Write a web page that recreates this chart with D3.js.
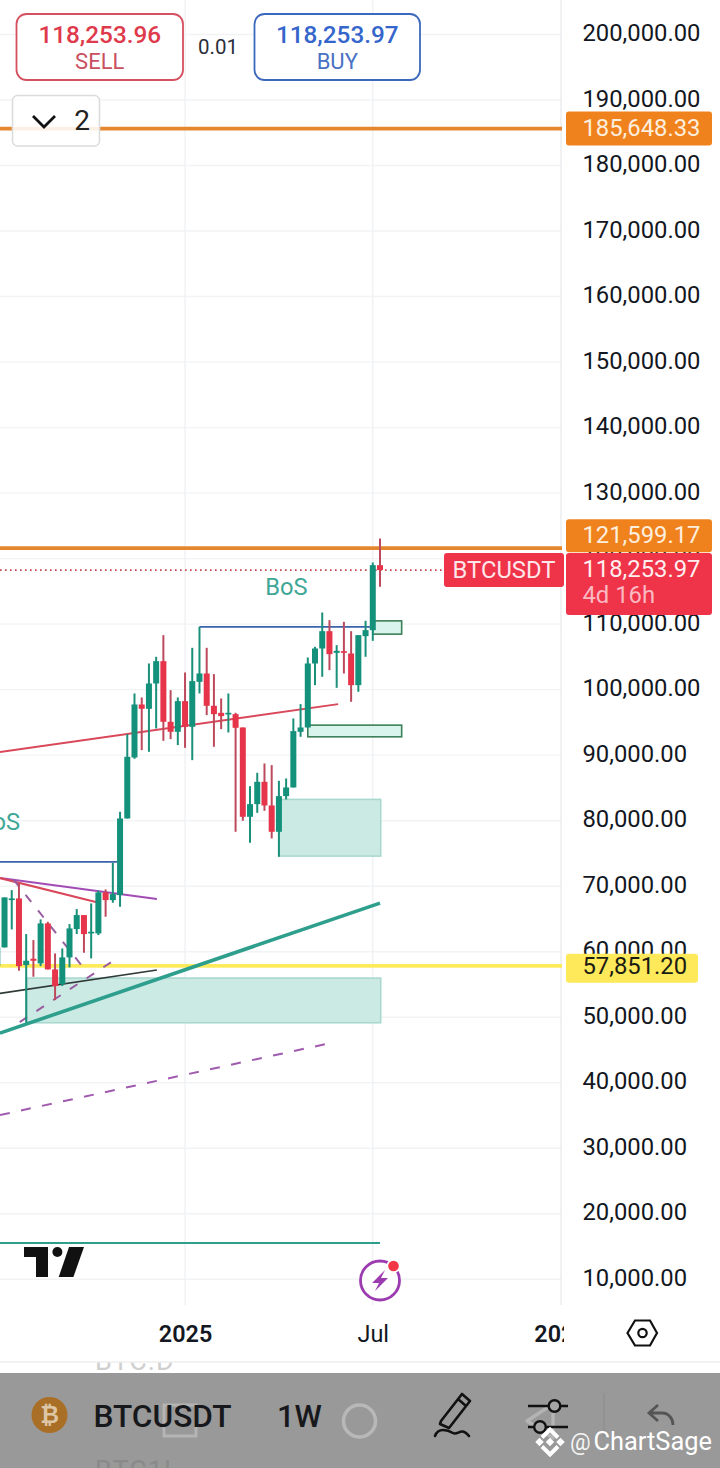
<!DOCTYPE html>
<html>
<head>
<meta charset="utf-8">
<script src="https://cdn.jsdelivr.net/npm/d3@7"></script>
<style>
    html, body { margin: 0; padding: 0; background: #fff; }
    svg { display: block; }
    text { font-family: Roboto, sans-serif; }
</style>
</head>
<body>
<div id="chart"></div>
<script>
// weekly candles, week 0 = 8 Jul 2024, last one = 14 Jul 2025
var opens = [57808, 60657, 67880, 68135, 57961, 58927, 58215, 64319, 57299, 55061, 59130, 63454, 65591, 62793, 62793, 69050, 67880,
    68640, 80340, 89650, 97738, 97077, 100943, 104351, 95093, 93567, 98247, 94330, 101197, 102469, 97535, 96466, 96211, 96263, 94228,
    80595, 82528, 85936, 82324, 78306, 83749, 85071, 93567, 94228, 103995, 106284, 108929, 105623, 105877, 105521, 100688, 108166, 109082, 119002];
var closes = [60657, 68287, 68135, 57808, 58622, 58622, 64319, 57299, 54756, 59130, 63556, 65591, 62692, 63048, 69050, 67880, 68796,
    80340, 89751, 97738, 97077, 100943, 104351, 95093, 93567, 98247, 94330, 101299, 102469, 97535, 96263, 95958, 96466, 94177, 80595,
    82528, 85936, 82324, 78306, 83749, 85071, 93668, 94228, 103995, 106284, 108929, 105419, 105928, 105623, 100688, 108319, 109082, 119002, 118253.97];
var highs = [60657, 68287, 69406, 70424, 62692, 61776, 64930, 64574, 59741, 60504, 64218, 66507, 65591, 67372, 69305, 69508, 73578,
    81358, 93211, 99417, 98806, 103995, 105012, 108319, 99925, 98806, 102622, 106386, 109591, 106386, 102367, 98654, 99417, 96466, 94228,
    85275, 87310, 88734, 88480, 86089, 86445, 95601, 97789, 104911, 106538, 111778, 110608, 106793, 110354, 108929, 108319, 110506, 119409, 123071];
var lows = [55671, 60657, 63404, 57095, 49160, 56179, 57808, 57299, 52619, 54756, 57605, 62692, 59843, 58978, 62539, 65337, 67473,
    66860, 80340, 89446, 90769, 90514, 94075, 92193, 92448, 91532, 91125, 89243, 99417, 96110, 91277, 93974, 93465, 78306, 79984,
    76627, 81205, 81510, 77288, 74490, 83240, 85071, 92804, 94228, 100688, 101960, 102978, 100281, 102469, 98145, 99671, 105013, 107454, 115695];

var priceTicks = d3.range(10000, 200001, 10000);
var timeTicks = [26, 52, 78];
var timeLabels = ["2025", "Jul", "2026"];

// horizontal price levels
var levels = [
    { price: 185648.33, color: "#e4872f" },
    { price: 121599.17, color: "#e4872f" },
    { price: 57851.20, color: "#fdeb5b" }
];
var lastPrice = 118253.97;

// drawn lines: [week, price, week, price]
var trendLines = [
    { name: "support", pts: [0.37, 47585, 53, 67423], color: "#2f9f8d", w: 3.6, dash: null },
    { name: "mid", pts: [0.37, 90466, 47.2, 97792], color: "#d9485a", w: 2, dash: null },
    { name: "low", pts: [0.37, 35071, 46.1, 46050], color: "#a05aae", w: 2, dash: "10 11.5" },
    { name: "purple", pts: [0.37, 71238, 22.1, 68034], color: "#a24bb5", w: 2, dash: null },
    { name: "redFall", pts: [0.37, 71238, 14.2, 67423], color: "#d9485a", w: 2, dash: null },
    { name: "black", pts: [0.37, 53644, 22.1, 57200], color: "#2f3b38", w: 1.6, dash: null },
    { name: "zigA", pts: [2.2, 71086, 12.4, 56894], color: "#9a5ca0", w: 2, dash: "9 11" },
    { name: "zigB", pts: [3.1, 49264, 16, 58573], color: "#9a5ca0", w: 2, dash: "9 11" },
    { name: "bosLow", pts: [0.37, 73726, 16.6, 73726], color: "#3a62ad", w: 1.7, dash: null },
    { name: "bosHigh", pts: [28, 109590, 51.6, 109590], color: "#3a62ad", w: 1.7, dash: null },
    { name: "floor", pts: [0.37, 15540, 53, 15540], color: "#2f9f8d", w: 1.8, dash: null }
];

// zones: [week from, price top, week to, price bottom]
var zones = [
    { box: [4.1, 55978, 53.1, 49157], fill: "#cceae4", stroke: "#a9d8cf" },
    { box: [39, 83248, 53.1, 74596], fill: "#cceae4", stroke: "#a9d8cf" },
    { box: [43, 94586, 56, 92801], fill: "#d9f3ed", stroke: "#3c7f58" },
    { box: [52, 110502, 56, 108473], fill: "#d9f3ed", stroke: "#3c7f58" }
];

var svgWidth = 720;
var svgHeight = 1468;
var axisX = 562;
var plotBottom = 1305;

var xScale = d3.scaleLinear().domain([0, 53]).range([-2.7, 380]);
var yScale = d3.scaleLinear().domain([10000, 200000]).range([1279.3, 34.5]);

var svg = d3.select("#chart").append("svg")
    .attr("width", svgWidth)
    .attr("height", svgHeight);

var defs = svg.append("defs");
defs.append("clipPath").attr("id", "plotClip").append("rect")
    .attr("width", axisX).attr("height", plotBottom);
defs.append("clipPath").attr("id", "timeClip").append("rect")
    .attr("y", plotBottom).attr("width", axisX + 2).attr("height", 60);

// grid
var grid = svg.append("g");
grid.selectAll(".hgrid").data(priceTicks).enter().append("line")
    .attr("x1", 0).attr("x2", axisX)
    .attr("y1", d => yScale(d)).attr("y2", d => yScale(d))
    .attr("stroke", "#f1f3f5").attr("stroke-width", 1.4);
grid.selectAll(".vgrid").data(timeTicks.slice(0, 2)).enter().append("line")
    .attr("x1", d => xScale(d)).attr("x2", d => xScale(d))
    .attr("y1", 0).attr("y2", plotBottom)
    .attr("stroke", "#eff1f3").attr("stroke-width", 1.4);
grid.append("line")
    .attr("x1", axisX - 1).attr("x2", axisX - 1).attr("y1", 0).attr("y2", plotBottom)
    .attr("stroke", "#e9ebee").attr("stroke-width", 1.4);

var plot = svg.append("g").attr("clip-path", "url(#plotClip)");

// zones
plot.selectAll(".zone").data(zones).enter().append("rect")
    .attr("x", d => xScale(d.box[0]))
    .attr("y", d => yScale(d.box[1]))
    .attr("width", d => xScale(d.box[2]) - xScale(d.box[0]))
    .attr("height", d => yScale(d.box[3]) - yScale(d.box[1]))
    .attr("fill", d => d.fill)
    .attr("stroke", d => d.stroke)
    .attr("stroke-width", 1.6);

// price levels and drawings
plot.selectAll(".level").data(levels).enter().append("line")
    .attr("x1", 0).attr("x2", axisX)
    .attr("y1", d => yScale(d.price)).attr("y2", d => yScale(d.price))
    .attr("stroke", d => d.color).attr("stroke-width", 3.8);

plot.selectAll(".trend").data(trendLines).enter().append("line")
    .attr("x1", d => xScale(d.pts[0])).attr("y1", d => yScale(d.pts[1]))
    .attr("x2", d => xScale(d.pts[2])).attr("y2", d => yScale(d.pts[3]))
    .attr("stroke", d => d.color).attr("stroke-width", d => d.w)
    .attr("stroke-dasharray", d => d.dash);

plot.append("line")
    .attr("x1", 0).attr("x2", 446)
    .attr("y1", yScale(lastPrice)).attr("y2", yScale(lastPrice))
    .attr("stroke", "#c9404f").attr("stroke-width", 1.8).attr("stroke-dasharray", "1.6 3.4");

// candles
var candles = plot.selectAll(".candle").data(opens).enter().append("g");
candles.append("line")
    .attr("x1", (d, i) => xScale(i)).attr("x2", (d, i) => xScale(i))
    .attr("y1", (d, i) => yScale(highs[i])).attr("y2", (d, i) => yScale(lows[i]))
    .attr("stroke", (d, i) => closes[i] >= d ? "#1a8f79" : "#bd4a5c")
    .attr("stroke-width", 2);
candles.append("rect")
    .attr("x", (d, i) => xScale(i) - 3)
    .attr("width", 6)
    .attr("y", (d, i) => yScale(Math.max(d, closes[i])))
    .attr("height", (d, i) => Math.max(1.6, Math.abs(yScale(d) - yScale(closes[i]))))
    .attr("fill", (d, i) => closes[i] >= d ? "#13917a" : "#e6354a");

// BoS labels
plot.append("text").attr("x", 286.5).attr("y", 595).attr("text-anchor", "middle")
    .attr("font-size", 23.7).attr("fill", "#3fa796").text("BoS");
plot.append("text").attr("x", 20).attr("y", 830).attr("text-anchor", "end")
    .attr("font-size", 23.7).attr("fill", "#3fa796").text("BoS");

// TradingView mark
var tv = svg.append("g").attr("fill", "#111");
tv.append("path").attr("d", "M24 1247H48V1277H36V1257H24Z");
tv.append("circle").attr("cx", 57.4).attr("cy", 1252).attr("r", 5);
tv.append("path").attr("d", "M69 1247H84L73.4 1277H58.7Z");

// bolt badge
var bolt = svg.append("g");
bolt.append("circle").attr("cx", 380).attr("cy", 1280.5).attr("r", 19.5)
    .attr("fill", "#fff").attr("stroke", "#9c3bb0").attr("stroke-width", 2.8);
bolt.append("path").attr("d", "M385 1270L372 1283H379L375 1291L388 1278H381Z").attr("fill", "#9c3bb0");
bolt.append("circle").attr("cx", 393.5).attr("cy", 1266).attr("r", 7).attr("fill", "#fff");
bolt.append("circle").attr("cx", 393.5).attr("cy", 1266).attr("r", 5.3).attr("fill", "#f23645");

// price axis
var yAxis = svg.append("g")
    .attr("transform", `translate(${axisX}, -1.5)`)
    .call(d3.axisRight(yScale)
        .tickValues(priceTicks)
        .tickSize(0)
        .tickPadding(20.5)
        .tickFormat(d3.format(",.2f")));
yAxis.select(".domain").remove();
yAxis.selectAll("text").style("font-family", "Roboto, sans-serif")
    .style("font-size", "23.8px").attr("fill", "#131722");

// time axis
var timeAxis = svg.append("g")
    .attr("clip-path", "url(#timeClip)")
    .append("g")
    .attr("transform", "translate(0, 1325)")
    .call(d3.axisBottom(xScale)
        .tickValues(timeTicks)
        .tickSize(0)
        .tickPadding(0)
        .tickFormat((d, i) => timeLabels[i]));
timeAxis.select(".domain").remove();
timeAxis.selectAll("text").style("font-family", "Roboto, sans-serif")
    .style("font-size", "23.4px")
    .style("font-weight", (d, i) => i == 1 ? 400 : 600)
    .attr("fill", "#131722");

// price tags
function tag(x, y, w, h, fill) {
    svg.append("rect").attr("x", x).attr("y", y).attr("width", w).attr("height", h)
        .attr("rx", 3).attr("fill", fill);
}
function label(txt, x, y, size, fill, anchor, weight) {
    return svg.append("text").attr("x", x).attr("y", y)
        .attr("font-size", size).attr("fill", fill)
        .attr("text-anchor", anchor || "start")
        .attr("font-weight", weight || 400)
        .text(txt);
}
var fmt = d3.format(",.2f");
tag(566, yScale(levels[0].price) - 17, 146, 34, "#f0821e");
label(fmt(levels[0].price), 582.5, yScale(levels[0].price) + 7, 23.8, "#fdeedd");
tag(566, yScale(levels[1].price) - 29, 146, 33, "#f0821e");
label(fmt(levels[1].price), 582.5, yScale(levels[1].price) - 5, 23.8, "#fdeedd");
tag(566, yScale(lastPrice) - 17, 146, 62, "#ef3349");
label(fmt(lastPrice), 582.5, yScale(lastPrice) + 7, 23.8, "#ffeef0");
label("4d 16h", 582.5, yScale(lastPrice) + 33, 23.8, "#fbb9c2");
tag(444, yScale(lastPrice) - 17, 120, 34, "#ef3349");
label("BTCUSDT", 452.5, yScale(lastPrice) + 8, 23.8, "#ffe6e9");
tag(566, yScale(levels[2].price) - 12, 132, 29, "#fde95a");
label(fmt(levels[2].price), 582.5, yScale(levels[2].price) + 8, 23.8, "#1b1b12");

// order buttons
function button(x, w, stroke, price, priceColor, word, wordColor) {
    svg.append("rect").attr("x", x).attr("y", 14).attr("width", w).attr("height", 66)
        .attr("rx", 10).attr("fill", "#fff").attr("stroke", stroke).attr("stroke-width", 1.8);
    label(price, x + w / 2, 43, 24.3, priceColor, "middle", 500);
    label(word, x + w / 2, 69, 22, wordColor, "middle");
}
button(16.5, 166.5, "#d5515f", "118,253.96", "#df3a4c", "SELL", "#c9505f");
button(254.5, 165.5, "#3b68bd", "118,253.97", "#3566cc", "BUY", "#4a71c4");
label("0.01", 218, 54, 20.5, "#2a2e39", "middle");

// collapsed indicators box
svg.append("rect").attr("x", 12.5).attr("y", 95.5).attr("width", 87).attr("height", 50.5)
    .attr("rx", 5).attr("fill", "#fff").attr("fill-opacity", 0.88)
    .attr("stroke", "#dcdcdc").attr("stroke-width", 1.6);
svg.append("path").attr("d", "M33 116L44 127L55 116").attr("fill", "none")
    .attr("stroke", "#111").attr("stroke-width", 2.8);
label("2", 82, 130, 28, "#222", "middle");

// settings hexagon
svg.append("path").attr("d", "M627.5 1333L635 1320.5H650L657 1333L650 1345.5H635Z")
    .attr("fill", "none").attr("stroke", "#111").attr("stroke-width", 2.2);
svg.append("circle").attr("cx", 642.5).attr("cy", 1333).attr("r", 4.2)
    .attr("fill", "none").attr("stroke", "#111").attr("stroke-width", 2.2);

// bottom bar, dimmed by the sheet that is opening
label("BTC.D", 95, 1370, 27, "#cfcfcf").attr("letter-spacing", 1);
svg.append("rect").attr("y", 1349).attr("width", 720).attr("height", 13).attr("fill", "#fff");
svg.append("line").attr("x1", 0).attr("x2", 720).attr("y1", 1362).attr("y2", 1362)
    .attr("stroke", "#eeeeee").attr("stroke-width", 1.5);
svg.append("rect").attr("y", 1373).attr("width", 720).attr("height", 95).attr("fill", "#999999");
label("BTC1!", 95, 1480, 27, "#8a8a8a").attr("letter-spacing", 1);

svg.append("rect").attr("x", 164).attr("y", 1405).attr("width", 32).attr("height", 31)
    .attr("fill", "none").attr("stroke", "#b4b4b4").attr("stroke-width", 3);
svg.append("circle").attr("cx", 359.5).attr("cy", 1421).attr("r", 16)
    .attr("fill", "none").attr("stroke", "#b8b8b8").attr("stroke-width", 3.5);
svg.append("path").attr("d", "M553 1404L527 1421L553 1438Z").attr("fill", "none")
    .attr("stroke", "#b4b4b4").attr("stroke-width", 3.4).attr("stroke-linejoin", "round");

svg.append("circle").attr("cx", 49.5).attr("cy", 1415).attr("r", 18).attr("fill", "#a96f27");
label("₿", 49.5, 1423, 23, "#dcc6a6", "middle", 700);
label("BTCUSDT", 93.5, 1427, 31.6, "#17181c", "start", 500);
label("1W", 277, 1427, 31, "#17181c", "start", 500);

var pencil = svg.append("g").attr("fill", "none").attr("stroke", "#111")
    .attr("stroke-width", 2.6).attr("stroke-linejoin", "round").attr("stroke-linecap", "round");
pencil.append("path").attr("d", "M441 1421L462 1394L470 1401L449 1428L440 1424Z M458 1399L466 1406");
pencil.append("path").attr("d", "M435 1436C438 1427 448 1430 453 1433C458 1436 461 1426 469 1436");

var sliders = svg.append("g").attr("stroke", "#111").attr("stroke-width", 2.4);
sliders.append("line").attr("x1", 528).attr("x2", 568).attr("y1", 1406).attr("y2", 1406);
sliders.append("line").attr("x1", 528).attr("x2", 568).attr("y1", 1427).attr("y2", 1427);
sliders.append("circle").attr("cx", 554.5).attr("cy", 1406).attr("r", 5.8).attr("fill", "#a5a5a5");
sliders.append("circle").attr("cx", 540).attr("cy", 1427).attr("r", 5.8).attr("fill", "#a5a5a5");

svg.append("line").attr("x1", 604).attr("x2", 604).attr("y1", 1393).attr("y2", 1437)
    .attr("stroke", "#8e8e8e").attr("stroke-width", 1.2);
svg.append("path").attr("d", "M658 1405L649 1413L658 1421M649 1413H662C669 1413 673 1419 673 1425")
    .attr("fill", "none").attr("stroke", "#555").attr("stroke-width", 2.8);

// watermark
var mark = svg.append("g");
mark.selectAll("rect").data([[-10.5, 0], [10.5, 0], [0, 0]]).enter().append("rect")
    .attr("x", d => 550 + d[0] - 3).attr("y", d => 1442 + d[1] - 3)
    .attr("width", 6).attr("height", 6).attr("fill", "#fff")
    .attr("transform", d => `rotate(45 ${550 + d[0]} ${1442 + d[1]})`);
mark.append("path").attr("d", "M542 1437.5L550 1429.5L558 1437.5M542 1446.5L550 1454.5L558 1446.5")
    .attr("fill", "none").attr("stroke", "#fff").attr("stroke-width", 4);
label("@", 570, 1450, 23, "#f4f4f4");
label("ChartSage", 593.5, 1450, 25.4, "#ffffff");
</script>
</body>
</html>
